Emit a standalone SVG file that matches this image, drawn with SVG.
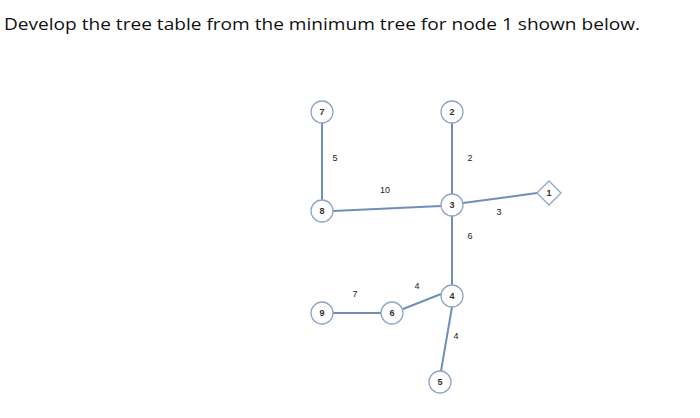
<svg xmlns="http://www.w3.org/2000/svg" width="700" height="418" viewBox="0 0 700 418">
<style>
.n{fill:#fff;stroke:#8ea6c8;stroke-width:1.3}
.t{font-family:"Liberation Sans",Arial,sans-serif;font-size:9px;font-weight:bold;fill:#333;text-anchor:middle}
.w{font-family:"Liberation Sans",Arial,sans-serif;font-size:9px;fill:#222;text-anchor:middle}
.e{stroke:#6f8fb8;stroke-width:2;fill:none}
</style>
<rect width="700" height="418" fill="#fff"/>
<text x="4" y="30" font-family="'Open Sans','Liberation Sans',sans-serif" font-size="17" fill="#111" textLength="636" lengthAdjust="spacingAndGlyphs">Develop the tree table from the minimum tree for node 1 shown below.</text>
<g id="connectors">
<line class="e" x1="322" y1="123" x2="322" y2="200"/>
<line class="e" x1="452" y1="123" x2="452" y2="194"/>
<line class="e" x1="333" y1="211" x2="441" y2="206"/>
<line class="e" x1="463" y1="203" x2="537" y2="193"/>
<line class="e" x1="452" y1="216" x2="452" y2="285"/>
<line class="e" x1="333" y1="313" x2="381" y2="313"/>
<line class="e" x1="403" y1="309" x2="441" y2="294"/>
<line class="e" x1="452" y1="307" x2="441" y2="371"/>
<text class="w" x="335" y="161">5</text>
<text class="w" x="470" y="161">2</text>
<text class="w" x="385" y="193">10</text>
<text class="w" x="499" y="215">3</text>
<text class="w" x="470" y="239">6</text>
<text class="w" x="355" y="297">7</text>
<text class="w" x="417" y="289">4</text>
<text class="w" x="456" y="339">4</text>
</g>
<g id="n7"><circle class="n" cx="322" cy="112" r="11"/><text class="t" x="322" y="115">7</text></g>
<g id="n2"><circle class="n" cx="452" cy="112" r="11"/><text class="t" x="452" y="115">2</text></g>
<g id="n8"><circle class="n" cx="322" cy="211" r="11"/><text class="t" x="322" y="214">8</text></g>
<g id="n3"><circle class="n" cx="452" cy="205" r="11"/><text class="t" x="452" y="208">3</text></g>
<g id="n1"><polygon class="n" points="549,181 561,193 549,205 537,193"/><text class="t" x="549" y="196">1</text></g>
<g id="n9"><circle class="n" cx="322" cy="313" r="11"/><text class="t" x="322" y="316">9</text></g>
<g id="n6"><circle class="n" cx="392" cy="313" r="11"/><text class="t" x="392" y="316">6</text></g>
<g id="n4"><circle class="n" cx="452" cy="296" r="11"/><text class="t" x="452" y="299">4</text></g>
<g id="n5"><circle class="n" cx="440" cy="382" r="11"/><text class="t" x="440" y="385">5</text></g>
</svg>
